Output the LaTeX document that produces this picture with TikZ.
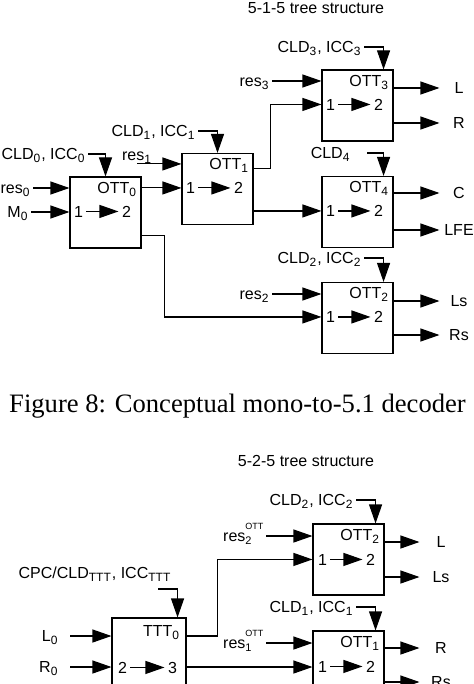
\documentclass[tikz,border=0pt]{standalone}
\usepackage{fontspec}
\setmainfont{Liberation Sans}
\newfontfamily\capfont{Liberation Serif}
\usetikzlibrary{arrows.meta,calc}
\newcommand{\rsub}[2]{\rlap{\raisebox{-1.5pt}{\fontsize{5.5}{6}\selectfont #2}}%
  \raisebox{6pt}{\fontsize{4.5}{5}\selectfont #1}}

\begin{document}
\begin{tikzpicture}[
  x=0.5pt, y=-0.5pt,
  font=\fontsize{8}{9.6}\selectfont,
  line width=0.55pt,
  lbl/.style={inner sep=1pt, text height=5.8pt, text depth=0pt},
  blk/.style={draw, minimum width=35.5pt, minimum height=35.5pt, inner sep=0pt},
  num/.style={lbl, inner sep=0pt, inner xsep=1.5pt},
  outl/.style={lbl, inner sep=0pt, minimum width=19pt},
  arr/.style={-{Triangle[length=9.5pt,width=6.5pt]}}]
\useasboundingbox (0,0) rectangle (474,684);
\clip (0,0) rectangle (474,684);
% 5-1-5 tree
\node[lbl] (t515) at (316,8) {5-1-5 tree structure};
\node[blk] (ott0) at (105.5,212.5) {};
\node[blk] (ott1) at (217.5,189) {};
\node[blk] (ott3) at (357.5,105.5) {};
\node[blk] (ott4) at (357.5,212) {};
\node[blk] (ott2) at (357.5,318) {};
% inside the boxes
\node[lbl, anchor=east] (n0) at ([shift={(-2,11)}]ott0.north east) {OTT\textsubscript{0}};
\node[num] (a0) at ([shift={(9,35)}]ott0.north west) {1};
\node[num] (b0) at ([shift={(57,35)}]ott0.north west) {2};
\node[lbl, anchor=east] (n1) at ([shift={(-2,11)}]ott1.north east) {OTT\textsubscript{1}};
\node[num] (a1) at ([shift={(9,35)}]ott1.north west) {1};
\node[num] (b1) at ([shift={(57,35)}]ott1.north west) {2};
\node[lbl, anchor=east] (n3) at ([shift={(-2,11)}]ott3.north east) {OTT\textsubscript{3}};
\node[num] (a3) at ([shift={(9,35)}]ott3.north west) {1};
\node[num] (b3) at ([shift={(57,35)}]ott3.north west) {2};
\node[lbl, anchor=east] (n4) at ([shift={(-2,11)}]ott4.north east) {OTT\textsubscript{4}};
\node[num] (a4) at ([shift={(9,35)}]ott4.north west) {1};
\node[num] (b4) at ([shift={(57,35)}]ott4.north west) {2};
\node[lbl, anchor=east] (n2) at ([shift={(-2,11)}]ott2.north east) {OTT\textsubscript{2}};
\node[num] (a2) at ([shift={(9,35)}]ott2.north west) {1};
\node[num] (b2) at ([shift={(57,35)}]ott2.north west) {2};
\draw[arr] (a0) -- (b0); \draw[arr] (a1) -- (b1); \draw[arr] (a3) -- (b3);
\draw[arr] (a4) -- (b4); \draw[arr] (a2) -- (b2);
% inputs
\node[lbl, anchor=east] (cld0) at (88,154) {CLD\textsubscript{0}, ICC\textsubscript{0}};
\node[lbl, anchor=east] (res0) at (33,188) {res\textsubscript{0}};
\node[lbl, anchor=east] (m0) at (31,212) {M\textsubscript{0}};
\node[lbl, anchor=east] (cld1) at (198,131) {CLD\textsubscript{1}, ICC\textsubscript{1}};
\node[lbl] (res1) at (137,155) {res\textsubscript{1}};
\node[lbl, anchor=east] (cld3) at (364,47) {CLD\textsubscript{3}, ICC\textsubscript{3}};
\node[lbl, anchor=east] (res3) at (272,81) {res\textsubscript{3}};
\node[lbl, anchor=east] (cld4) at (353,153) {CLD\textsubscript{4}};
\node[lbl, anchor=east] (cld2) at (364,258) {CLD\textsubscript{2}, ICC\textsubscript{2}};
\node[lbl, anchor=east] (res2) at (272,294) {res\textsubscript{2}};
\draw[arr] (cld0) -| (ott0.north);
\draw[arr] (res0) -- (res0 -| ott0.west);
\draw[arr] (m0) -- (m0 -| ott0.west);
\draw[arr] (cld1) -| (ott1.north);
\draw[arr] (res1.south |- n1) -- (n1 -| ott1.west);
\draw[arr] (cld3) -| ([shift={(-10,0)}]ott3.north east);
\draw[arr] (res3) -- (res3 -| ott3.west);
\draw[arr, shorten <=7pt] (cld4) -| ([shift={(-10,0)}]ott4.north east);
\draw[arr] (cld2) -| ([shift={(-10,0)}]ott2.north east);
\draw[arr] (res2) -- (res2 -| ott2.west);
% links between boxes
\draw[arr] (a1 -| ott0.east) -- (a1 -| ott1.west);
\draw[arr] ([shift={(0,16)}]ott1.north east) -- ++(17,0) |- (a3 -| ott3.west);
\draw[arr] (a4 -| ott1.east) -- (a4 -| ott4.west);
\draw[arr] ([shift={(0,-13)}]ott0.south east) -- ++(23,0) |- (a2 -| ott2.west);
% outputs
\node[outl] (oL) at (459,88) {L};
\node[outl] (oR) at (459,123) {R};
\node[outl] (oC) at (459,193) {C};
\node[outl] (oLFE) at (459,230) {LFE};
\node[outl] (oLs) at (459,301) {Ls};
\node[outl] (oRs) at (459,335) {Rs};
\draw[arr] (oL -| ott3.east) -- (oL); \draw[arr] (oR -| ott3.east) -- (oR);
\draw[arr] (oC -| ott4.east) -- (oC); \draw[arr] (oLFE -| ott4.east) -- (oLFE);
\draw[arr] (oLs -| ott2.east) -- (oLs); \draw[arr] (oRs -| ott2.east) -- (oRs);
% caption
\node[font=\capfont\fontsize{13.3}{16}\selectfont, anchor=base, inner sep=0pt] (cap)
  at (237.5,412) {Figure 8: Conceptual mono-to-5.1 decoder};
% 5-2-5 tree
\node[lbl] (t525) at (306,461) {5-2-5 tree structure};
\node[blk, minimum width=37pt] (ttt) at (149,653.5) {};
\node[blk] (bott2) at (348.5,559.5) {};
\node[blk] (bott1) at (348.5,666.5) {};
\node[lbl, anchor=east] (nt) at ([shift={(-4,13)}]ttt.north east) {TTT\textsubscript{0}};
\node[num] (at) at ([shift={(11,50)}]ttt.north west) {2};
\node[num] (bt) at ([shift={(61,50)}]ttt.north west) {3};
\node[lbl, anchor=east] (nb2) at ([shift={(-2,11)}]bott2.north east) {OTT\textsubscript{2}};
\node[num] (ab2) at ([shift={(10,36)}]bott2.north west) {1};
\node[num] (bb2) at ([shift={(58,36)}]bott2.north west) {2};
\node[lbl, anchor=east] (nb1) at ([shift={(-2,11)}]bott1.north east) {OTT\textsubscript{1}};
\node[num] (ab1) at ([shift={(10,36)}]bott1.north west) {1};
\node[num] (bb1) at ([shift={(58,36)}]bott1.north west) {2};
\draw[arr] (at) -- (bt); \draw[arr] (ab2) -- (bb2); \draw[arr] (ab1) -- (bb1);
% inputs
\node[lbl] (cpc) at (95,573) {CPC/CLD\textsubscript{TTT}, ICC\textsubscript{TTT}};
\coordinate (cpcin) at (158,589);
\node[lbl, anchor=east] (l0) at (61,636) {L\textsubscript{0}};
\node[lbl, anchor=east] (r0) at (61,667) {R\textsubscript{0}};
\node[lbl, anchor=east] (cldb2) at (356,500) {CLD\textsubscript{2}, ICC\textsubscript{2}};
\node[lbl, anchor=east] (resb2) at (266,536) {res\rsub{OTT}{2}};
\node[lbl, anchor=east] (cldb1) at (356,607) {CLD\textsubscript{1}, ICC\textsubscript{1}};
\node[lbl, anchor=east] (resb1) at (266,643) {res\rsub{OTT}{1}};
\draw[arr] (cpcin) -| ([shift={(-9,0)}]ttt.north east);
\draw[arr, shorten <=4.5pt] (l0) -- (l0 -| ttt.west);
\draw[arr, shorten <=4.5pt] (r0) -- (r0 -| ttt.west);
\draw[arr] (cldb2) -| ([shift={(-9,0)}]bott2.north east);
\draw[arr] (resb2) -- (resb2 -| bott2.west);
\draw[arr] (cldb1) -| ([shift={(-9,0)}]bott1.north east);
\draw[arr] (resb1) -- (resb1 -| bott1.west);
% links between boxes
\draw[arr] (l0 -| ttt.east) -- ++(31,0) |- (ab2 -| bott2.west);
\draw[arr] (r0 -| ttt.east) -- (r0 -| bott1.west);
% outputs
\node[outl, minimum width=21pt] (oL2) at (441,542) {L};
\node[outl, minimum width=21pt] (oLs2) at (441,577) {Ls};
\node[outl, minimum width=21pt] (oR2) at (441,648) {R};
\node[outl, minimum width=21pt] (oRs2) at (441,682) {Rs};
\draw[arr] (oL2 -| bott2.east) -- (oL2); \draw[arr] (oLs2 -| bott2.east) -- (oLs2);
\draw[arr] (oR2 -| bott1.east) -- (oR2); \draw[arr] (oRs2 -| bott1.east) -- (oRs2);
\end{tikzpicture}
\end{document}
